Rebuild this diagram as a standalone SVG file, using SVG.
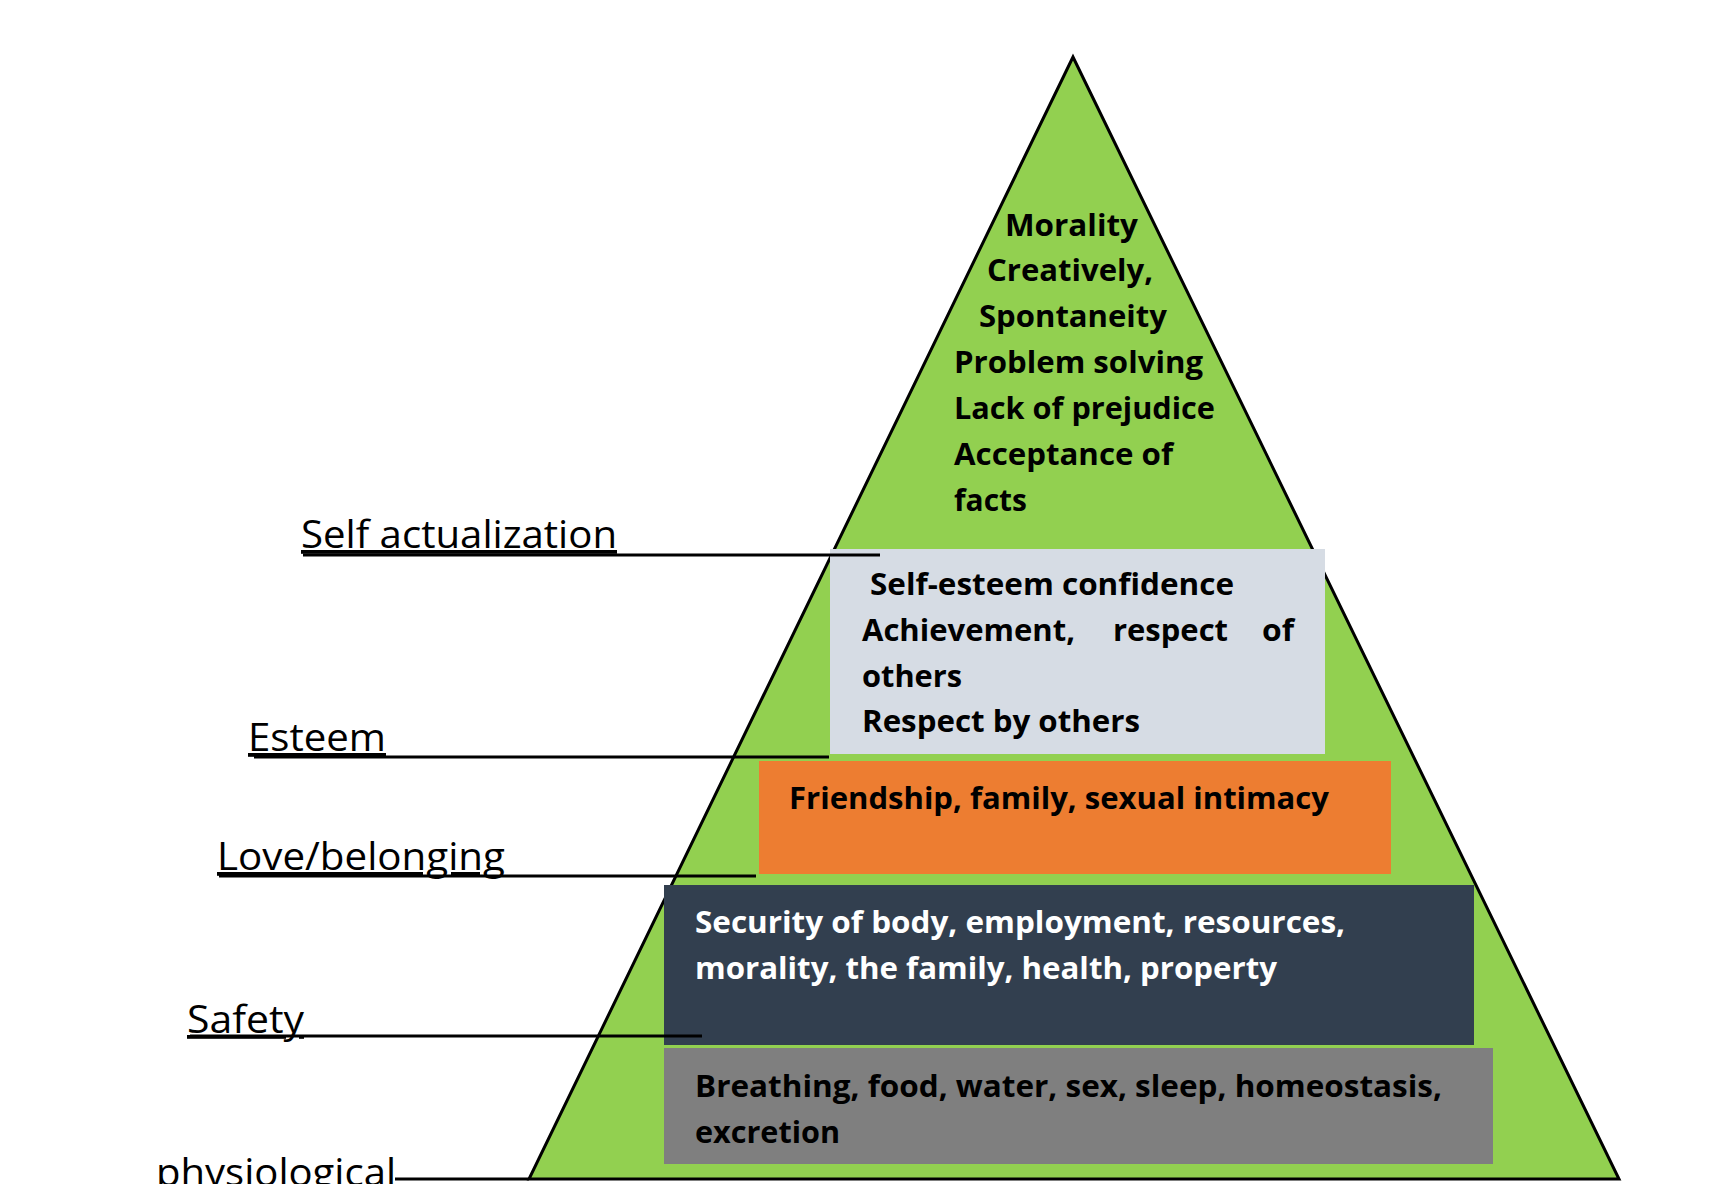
<svg xmlns="http://www.w3.org/2000/svg" width="1720" height="1184" viewBox="0 0 1720 1184">
<style>
.b{font-family:"Open Sans","Liberation Sans",sans-serif;font-weight:bold;font-size:31px;fill:#000}
.w{fill:#fff}
.l{font-family:"Open Sans","Liberation Sans",sans-serif;font-size:38px;fill:#000;text-decoration:underline}
.ln{stroke:#000;stroke-width:3}
</style>
<rect width="1720" height="1184" fill="#fff"/>
<g id="pyramid"><polygon points="1073,57 529,1179 1619,1179" fill="#92d050" stroke="#000" stroke-width="3"/>
<g class="b">
<text x="1005" y="236" textLength="133" lengthAdjust="spacingAndGlyphs">Morality</text>
<text x="987" y="281" textLength="166" lengthAdjust="spacingAndGlyphs">Creatively,</text>
<text x="979" y="327" textLength="188" lengthAdjust="spacingAndGlyphs">Spontaneity</text>
<text x="954" y="373" textLength="249" lengthAdjust="spacingAndGlyphs">Problem solving</text>
<text x="954" y="419" textLength="261" lengthAdjust="spacingAndGlyphs">Lack of prejudice</text>
<text x="954" y="465" textLength="219" lengthAdjust="spacingAndGlyphs">Acceptance of</text>
<text x="954" y="511" textLength="73" lengthAdjust="spacingAndGlyphs">facts</text>
</g></g>
<g id="esteem"><rect x="830" y="549" width="495" height="205" fill="#d6dce4"/>
<g class="b">
<text x="870" y="595" textLength="364" lengthAdjust="spacingAndGlyphs">Self-esteem confidence</text>
<text x="862" y="641" textLength="213" lengthAdjust="spacingAndGlyphs">Achievement,</text>
<text x="1113" y="641" textLength="115" lengthAdjust="spacingAndGlyphs">respect</text>
<text x="1262" y="641" textLength="32" lengthAdjust="spacingAndGlyphs">of</text>
<text x="862" y="687" textLength="100" lengthAdjust="spacingAndGlyphs">others</text>
<text x="862" y="732" textLength="278" lengthAdjust="spacingAndGlyphs">Respect by others</text>
</g></g>
<g id="love"><rect x="759" y="761" width="632" height="113" fill="#ed7d31"/>
<text class="b" x="789" y="809" textLength="540" lengthAdjust="spacingAndGlyphs">Friendship, family, sexual intimacy</text></g>
<g id="safety"><rect x="664" y="885" width="810" height="160" fill="#323f4f"/>
<text class="b w" x="695" y="933" textLength="650" lengthAdjust="spacingAndGlyphs">Security of body, employment, resources,</text>
<text class="b w" x="695" y="979" textLength="582" lengthAdjust="spacingAndGlyphs">morality, the family, health, property</text></g>
<g id="physio"><rect x="664" y="1048" width="829" height="116" fill="#7f7f7f"/>
<text class="b" x="695" y="1097" textLength="747" lengthAdjust="spacingAndGlyphs">Breathing, food, water, sex, sleep, homeostasis,</text>
<text class="b" x="695" y="1143" textLength="145" lengthAdjust="spacingAndGlyphs">excretion</text></g>
<g id="labels">
<text class="l" x="301" y="548" textLength="316" lengthAdjust="spacingAndGlyphs">Self actualization</text>
<text class="l" x="248" y="751" textLength="138" lengthAdjust="spacingAndGlyphs">Esteem</text>
<text class="l" x="217" y="870" textLength="288" lengthAdjust="spacingAndGlyphs">Love/belonging</text>
<text class="l" x="187" y="1033" textLength="117" lengthAdjust="spacingAndGlyphs">Safety</text>
<text class="l" x="156" y="1186" textLength="240" lengthAdjust="spacingAndGlyphs">physiological</text>
</g>
<g id="connectors">
<line class="ln" x1="303" y1="555" x2="880" y2="555"/>
<line class="ln" x1="254" y1="757" x2="829" y2="757"/>
<line class="ln" x1="219" y1="876" x2="756" y2="876"/>
<line class="ln" x1="190" y1="1036" x2="702" y2="1036"/>
<line class="ln" x1="395" y1="1179" x2="529" y2="1179"/>
</g>
</svg>
